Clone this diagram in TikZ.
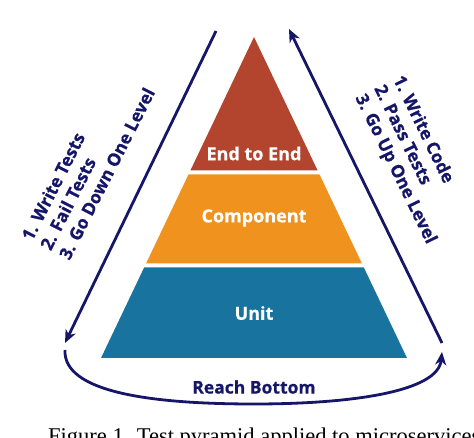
\documentclass[tikz,border=0pt]{standalone}
\usepackage{fontspec}
\setmainfont{Liberation Serif}
\setsansfont{Open Sans}[BoldFeatures={FakeBold=0.6}]
\usetikzlibrary{arrows.meta}

\definecolor{navy}{RGB}{22,22,104}
\definecolor{e2ecol}{RGB}{179,69,47}
\definecolor{compcol}{RGB}{240,147,30}
\definecolor{unitcol}{RGB}{24,115,159}

\def\apexx{254}
\def\apexy{37}
\def\slope{0.4766}
\tikzstyle{level}=[text=white, font=\fontsize{18}{21}\selectfont\sffamily\bfseries]
\tikzstyle{steps}=[text=navy, align=left, inner sep=0pt, font=\fontsize{17.5}{21}\selectfont\sffamily\bfseries]
\tikzstyle{loopline}=[draw=navy, line width=2.8pt, -{Stealth[length=13pt, width=11pt, inset=4pt]}]
\tikzstyle{caption}=[inner sep=0pt, font=\fontsize{22.5}{27}\selectfont]

\begin{document}
\begin{tikzpicture}[x=1pt, y=-1pt, >=Stealth] % y runs downwards
  \useasboundingbox (0,0) rectangle (474,438);

  % pyramid levels
  \foreach \ya/\yb/\col/\name/\txt/\ty in {37/170.5/e2ecol/e2e/End to End/153.5,
    174.5/263.5/compcol/comp/Component/218, 267.5/358/unitcol/unit/Unit/313}
  {
    \fill [\col] ({\apexx-\slope*(\ya-\apexy)},\ya) -- ({\apexx+\slope*(\ya-\apexy)},\ya)
      -- ({\apexx+\slope*(\yb-\apexy)},\yb) -- ({\apexx-\slope*(\yb-\apexy)},\yb) -- cycle;
    \node [level] (\name) at (\apexx,\ty) {\txt};
  }

  % steps along the sides
  \node [steps, rotate=63] (down) at (88,164) {1. Write Tests\\2. Fail Tests\\3. Go Down One Level};
  \node [steps, rotate=-64] (up) at (414,160) {1. Write Code\\2. Pass Tests\\3. Go Up One Level};
  \node [steps] (bottom) at (254,387) {Reach Bottom};

  % ends of the loop
  \coordinate (ltop) at (216,31);
  \coordinate (lbot) at (65,343);
  \coordinate (bl) at (65,350);
  \coordinate (bmid) at (254,404);
  \coordinate (br) at (442,352);
  \coordinate (rbot) at (442,343);
  \coordinate (rtop) at (289,29);

  % loop arrows
  \draw [loopline] (ltop) -- (lbot);
  \draw [loopline] (bl) .. controls (63,392) and (150,404) .. (bmid)
    .. controls (350,404) and (438,392) .. (br);
  \draw [loopline] (rbot) -- (rtop);

  % caption, cut by the lower edge
  \node [caption, anchor=base west] (caption) at (48,443) {Figure 1. Test pyramid applied to microservices};
\end{tikzpicture}
\end{document}
